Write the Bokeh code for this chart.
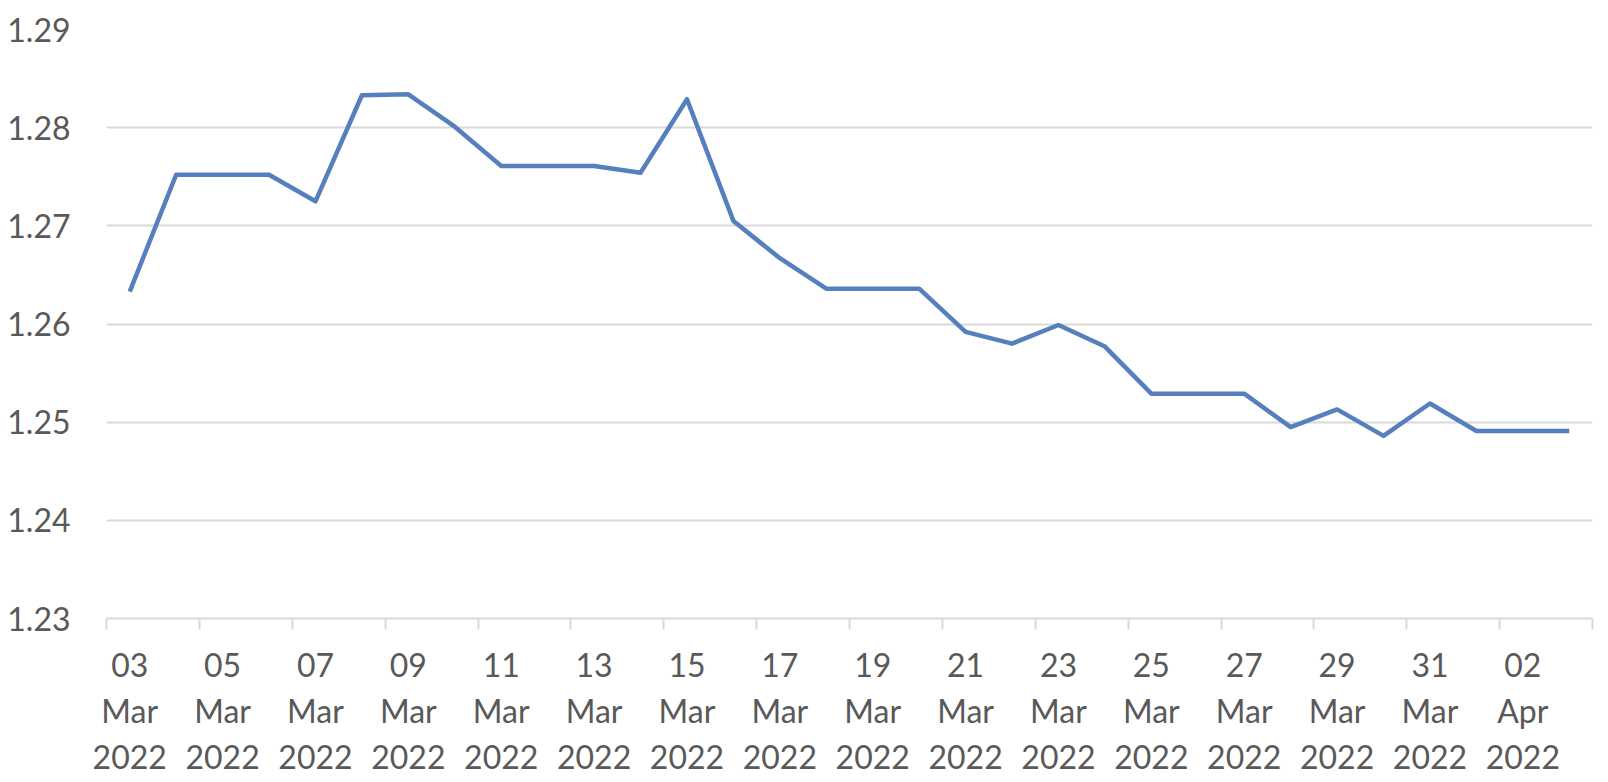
from bokeh.plotting import figure
from bokeh.models import Range1d, FixedTicker
from bokeh.embed import file_html
from bokeh.resources import INLINE

# daily dates, 03 Mar 2022 .. 03 Apr 2022
dates = ["03 Mar 2022", "04 Mar 2022", "05 Mar 2022", "06 Mar 2022", "07 Mar 2022",
         "08 Mar 2022", "09 Mar 2022", "10 Mar 2022", "11 Mar 2022", "12 Mar 2022",
         "13 Mar 2022", "14 Mar 2022", "15 Mar 2022", "16 Mar 2022", "17 Mar 2022",
         "18 Mar 2022", "19 Mar 2022", "20 Mar 2022", "21 Mar 2022", "22 Mar 2022",
         "23 Mar 2022", "24 Mar 2022", "25 Mar 2022", "26 Mar 2022", "27 Mar 2022",
         "28 Mar 2022", "29 Mar 2022", "30 Mar 2022", "31 Mar 2022", "01 Apr 2022",
         "02 Apr 2022", "03 Apr 2022"]
rates = [1.2633, 1.2752, 1.2752, 1.2752, 1.2725, 1.2833, 1.2834, 1.2801, 1.2761, 1.2761,
         1.2761, 1.2754, 1.2829, 1.2705, 1.2667, 1.2636, 1.2636, 1.2636, 1.2592, 1.2580,
         1.2599, 1.2577, 1.2529, 1.2529, 1.2529, 1.2495, 1.2513, 1.2486, 1.2519, 1.2491,
         1.2491, 1.2491]
y_ticks = [1.23, 1.24, 1.25, 1.26, 1.27, 1.28, 1.29]

TEXT = "#595959"
GRID = "#d9d9d9"
FONT = "Lato"

idx = list(range(len(dates)))

p = figure(
    frame_width=1486, frame_height=589,
    output_backend="svg", toolbar_location=None,
    x_range=Range1d(-0.5, len(dates) - 0.5),
    y_range=Range1d(y_ticks[0], y_ticks[-1]),
    min_border_left=106, min_border_right=16,
    min_border_top=29, min_border_bottom=164,
)
p.outline_line_color = None

p.line(idx, rates, line_color="#5580bd", line_width=4.5, line_join="round")

# x axis: labels every second day, tick marks between category pairs
label_pos = idx[::2]
p.xaxis.ticker = FixedTicker(ticks=label_pos,
                             minor_ticks=[i - 0.5 for i in idx[::2]] + [len(dates) - 0.5])
p.xaxis.major_label_overrides = {i: dates[i].replace(" ", "\n") for i in label_pos}
p.xaxis.major_tick_line_color = None
p.xaxis.minor_tick_line_color = GRID
p.xaxis.minor_tick_line_width = 2
p.xaxis.minor_tick_out = 11
p.xaxis.minor_tick_in = 0
p.xaxis.axis_line_color = GRID
p.xaxis.axis_line_width = 2
p.xaxis.major_label_standoff = 15
p.xaxis.major_label_text_font = FONT
p.xaxis.major_label_text_font_size = "32px"
p.xaxis.major_label_text_color = TEXT
p.xaxis.major_label_text_line_height = 1.19
p.xgrid.grid_line_color = None

# y axis
p.yaxis.ticker = FixedTicker(ticks=y_ticks)
p.yaxis.major_label_overrides = {v: f"{v:.2f}" for v in y_ticks}
p.yaxis.axis_line_color = None
p.yaxis.major_tick_line_color = None
p.yaxis.minor_tick_line_color = None
p.yaxis.major_label_standoff = 30
p.yaxis.major_label_text_font = FONT
p.yaxis.major_label_text_font_size = "32px"
p.yaxis.major_label_text_color = TEXT
p.ygrid.ticker = FixedTicker(ticks=y_ticks[1:])
p.ygrid.grid_line_color = GRID
p.ygrid.grid_line_width = 2

open("out.html", "w").write(file_html(p, INLINE))
